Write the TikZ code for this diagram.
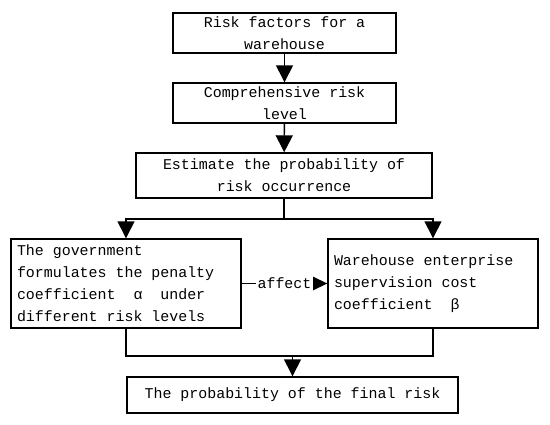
\documentclass[tikz,border=0pt]{standalone}
\usepackage{fontspec}
\setmainfont{Liberation Mono}[WordSpace={1,0,0}]
\usetikzlibrary{arrows.meta}
\newcommand{\boxline}{.8pt}
\newcommand{\tipsize}{.34cm}
\newcommand{\fixedspaces}{\spaceskip0pt\relax\xspaceskip0pt\relax}

\begin{document}
\begin{tikzpicture}[x=.02cm, y=-.02cm,
    box/.style={draw, line width=\boxline, inner sep=0pt, align=center,
      font=\fontsize{8.5}{12.5}\selectfont},
    leftbox/.style={box, align=flush left, minimum height=1.78cm, inner xsep=.12cm},
    arr/.style={line width=\boxline, -{Triangle[width=\tipsize, length=\tipsize]}}]
    \useasboundingbox (0,0) rectangle (550,425);
    % top chain
        \node (factors) at (284.5,33) [box, minimum width=4.46cm, minimum height=.8cm] {Risk factors for a\\warehouse};
        \node (level) at (284.5,103) [box, minimum width=4.46cm, minimum height=.8cm] {Comprehensive risk\\level};
        \node (estimate) at (284,175.5) [box, minimum width=5.92cm, minimum height=.9cm] {Estimate the probability of\\risk occurrence};
    % middle row
        \node (penalty) at (126,283.5) [leftbox, text width=4.36cm]
          {\fixedspaces The government\\formulates the penalty\\coefficient~~α~~under\\different risk levels};
        \node (cost) at (433,283.5) [leftbox, text width=3.96cm]
          {\fixedspaces Warehouse enterprise\\supervision cost\\coefficient~~β};
    % result
        \node (final) at (292.5,395) [box, minimum width=6.62cm, minimum height=.72cm] {The probability of the final risk};
        \coordinate (split) at (284,219);
        \coordinate (join) at (292.5,356);

        \draw[arr] (factors) to (level);
        \draw[arr] (level) to (estimate);
        \draw[line width=\boxline] (estimate) to (split);
        \draw[arr] (split) -| (penalty);
        \draw[arr] (split) -| (cost);
        \draw[line width=\boxline] (penalty.south) |- (join) -| (cost.south);
        \draw[arr] (join) to (final);
        \draw[line width=\boxline, -{Triangle[width=.3cm, length=.32cm]}] (penalty) -- node[fill=white, inner sep=1pt,
          font=\fontsize{8.5}{12.5}\selectfont] {affect} (cost);
\end{tikzpicture}
\end{document}
